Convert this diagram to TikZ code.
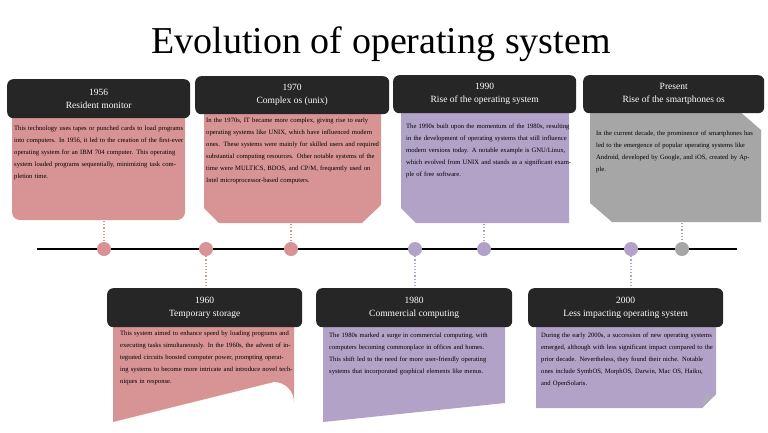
\documentclass[tikz,border=0pt]{standalone}
\usepackage{fontspec}
\setmainfont{Liberation Serif}
\begin{document}
\begin{tikzpicture}[x=1pt,y=-1pt,
  hdr/.style={fill=hdrc,rounded corners=6pt,text=white,font=\fontsize{9.5}{13}\selectfont,align=center,anchor=north west,inner sep=0pt},
  body/.style={anchor=north west,text width=#1,align=left,font=\fontsize{6.6}{12}\selectfont,inner sep=0pt},
  dot/.style={circle,minimum size=14pt,inner sep=0pt},
  conn/.style={dotted,line width=1.2pt}]
\definecolor{hdrc}{HTML}{262626}
\definecolor{pk}{HTML}{D89494}
\definecolor{pu}{HTML}{B3A2C8}
\definecolor{gr}{HTML}{A6A6A6}
\path[use as bounding box,fill=white] (0,0) rectangle (768,432);
\node[font=\fontsize{38}{40}\selectfont] (title) at (381,44) {Evolution of operating system};
% timeline
\coordinate (l0) at (37,249); \coordinate (l1) at (737,249);
\draw[line width=2.6pt] (l0) -- (l1);
% bodies
\fill[pk,rounded corners=8pt] (12,110) -- (185,110) -- (185,220) -- (12,220) -- cycle;
\fill[pk] (204,110) -- (381,110) -- (381,205) -- (362,223) -- (219,223) -- (204,208) -- cycle;
\fill[pu] (401,110) -- (569,110) -- (569,223) -- (416,223) -- (401,208) -- cycle;
\fill[gr] (590,110) -- (738,110) -- (761,130) -- (761,222) -- (612,222) -- (590,203) -- cycle;
\fill[pk] (113,320) -- (294,320) -- (294,402) arc[start angle=0,end angle=90,x radius=20,y radius=-20] -- (113,422) -- cycle;
\fill[pu] (323,320) -- (505,320) -- (505,403) -- (323,422) -- cycle;
\fill[pu] (536,320) -- (716,320) -- (716,394) -- (702,408) -- (536,408) -- cycle;
\fill[pu!70!black!60] (716,394) -- (702,408) -- (704,396) -- cycle;
% headers
\node[hdr,minimum width=183pt,minimum height=39pt] (h1) at (7,79) {1956\\Resident monitor};
\node[hdr,minimum width=194pt,minimum height=38pt] (h2) at (195,76) {1970\\Complex os (unix)};
\node[hdr,minimum width=183pt,minimum height=38pt] (h3) at (393,75) {1990\\Rise of the operating system};
\node[hdr,minimum width=181pt,minimum height=38pt] (h4) at (583,75) {Present\\Rise of the smartphones os};
\node[hdr,minimum width=195pt,minimum height=39pt] (h5) at (107,288) {1960\\Temporary storage};
\node[hdr,minimum width=196pt,minimum height=39pt] (h6) at (316,288) {1980\\Commercial computing};
\node[hdr,minimum width=195pt,minimum height=39pt] (h7) at (528,288) {2000\\Less impacting operating system};
% texts
\node[body=170pt] (t1) at (14,126) {This technology uses tapes or punched cards to load programs into computers. In 1956, it led to the creation of the first-ever operating system for an IBM 704 computer. This operating system loaded programs sequentially, minimizing task completion time.};
\node[body=175pt] (t2) at (206,118) {In the 1970s, IT became more complex, giving rise to early operating systems like UNIX, which have influenced modern ones. These systems were mainly for skilled users and required substantial computing resources. Other notable systems of the time were MULTICS, BDOS, and CP/M, frequently used on Intel microprocessor-based computers.};
\node[body=165pt] (t3) at (406,124) {The 1990s built upon the momentum of the 1980s, resulting in the development of operating systems that still influence modern versions today. A notable example is GNU/Linux, which evolved from UNIX and stands as a significant example of free software.};
\node[body=160pt] (t4) at (596,131) {In the current decade, the prominence of smartphones has led to the emergence of popular operating systems like Android, developed by Google, and iOS, created by Apple.};
\node[body=175pt] (t5) at (120,331) {This system aimed to enhance speed by loading programs and executing tasks simultaneously. In the 1960s, the advent of integrated circuits boosted computer power, prompting operating systems to become more intricate and introduce novel techniques in response.};
\node[body=170pt] (t6) at (329,333) {The 1980s marked a surge in commercial computing, with computers becoming commonplace in offices and homes. This shift led to the need for more user-friendly operating systems that incorporated graphical elements like menus.};
\node[body=172pt] (t7) at (541,333) {During the early 2000s, a succession of new operating systems emerged, although with less significant impact compared to the prior decade. Nevertheless, they found their niche. Notable ones include SymbOS, MorphOS, Darwin, Mac OS, Haiku, and OpenSolaris.};
% dots
\node[dot,fill=pk] (d1) at (104,249) {};
\node[dot,fill=pk] (d2) at (206,249) {};
\node[dot,fill=pk] (d3) at (291,249) {};
\node[dot,fill=pu] (d4) at (415,249) {};
\node[dot,fill=pu] (d5) at (484,249) {};
\node[dot,fill=pu] (d6) at (631,249) {};
\node[dot,fill=gr] (d7) at (682,249) {};
\coordinate (c1) at (104,221); \coordinate (c3) at (291,224); \coordinate (c5) at (484,224); \coordinate (c7) at (682,223);
\coordinate (c2) at (206,287); \coordinate (c4) at (415,287); \coordinate (c6) at (631,287);
\draw[conn,pk] (c1) -- (d1); \draw[conn,pk] (c3) -- (d3);
\draw[conn,pu] (c5) -- (d5); \draw[conn,gr] (c7) -- (d7);
\draw[conn,pk] (d2) -- (c2); \draw[conn,pu] (d4) -- (c4); \draw[conn,pu] (d6) -- (c6);
\end{tikzpicture}
\end{document}
